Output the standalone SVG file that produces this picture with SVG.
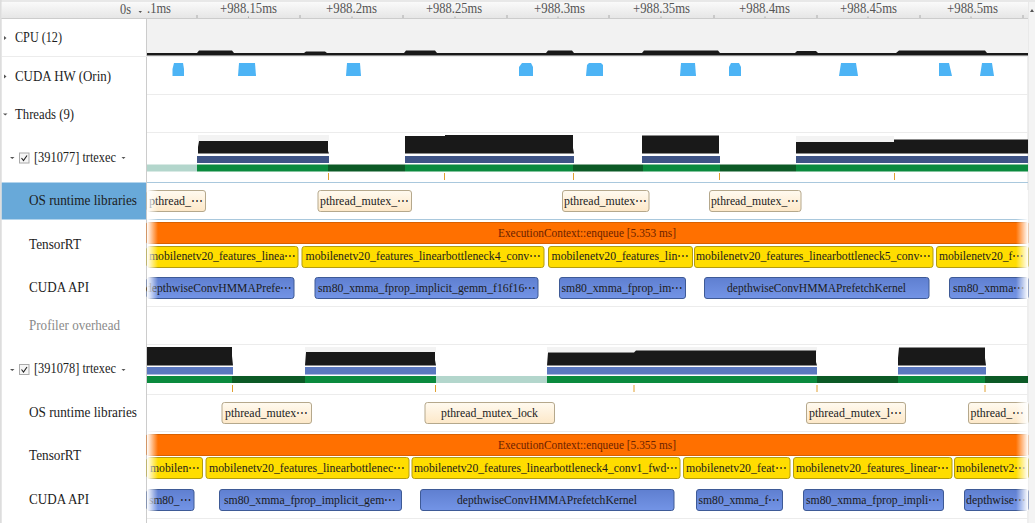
<svg xmlns="http://www.w3.org/2000/svg" width="1035" height="523" viewBox="0 0 1035 523">
<style>
text{font-family:"Liberation Serif","Times New Roman",serif;font-size:12px;fill:#1c1c1c}
.r{fill:#555;font-size:14px}
.l{font-size:14px}
.g{fill:#8a8a8a}
.sep{stroke:#ececec;stroke-width:1}
.k{fill:#191919}
.bd{fill:#f3f3f3}
.hw{fill:#4db4f5}
.t1{fill:#3f5486}
.t2{fill:#5b78bf}
.gr{fill:#0b8a3e}
.dk{fill:#0c5a26}
.lt{fill:#b3d6cc}
.tk{stroke:#e0a030;stroke-width:1}
.tri{fill:#555}
.os{fill:url(#gos);stroke:#b5a88c}
.yl{fill:#ffdd00;stroke:#b39c10}
.bl{fill:url(#gbl);stroke:#3e5a96}
.or{fill:#ff7000;stroke:#d86000}
.cb{fill:#f6f6f6;stroke:#aaa}
.rt{stroke:#aaa;stroke-width:1}
.o{fill:#6a2200;font-size:13px}
</style>
<defs>
<linearGradient id="ghd" x1="0" y1="0" x2="0" y2="1"><stop offset="0" stop-color="#fafafa"/><stop offset="1" stop-color="#e6e6e6"/></linearGradient>
<linearGradient id="gos" x1="0" y1="0" x2="0" y2="1"><stop offset="0" stop-color="#fffaf0"/><stop offset="1" stop-color="#fde8c8"/></linearGradient>
<linearGradient id="gbl" x1="0" y1="0" x2="0" y2="1"><stop offset="0" stop-color="#5f7fd0"/><stop offset="1" stop-color="#7394e6"/></linearGradient>
<linearGradient id="fl" x1="0" y1="0" x2="1" y2="0"><stop offset="0" stop-color="#fff" stop-opacity="1"/><stop offset="1" stop-color="#fff" stop-opacity="0"/></linearGradient>
<linearGradient id="fr" x1="0" y1="0" x2="1" y2="0"><stop offset="0" stop-color="#fff" stop-opacity="0"/><stop offset="1" stop-color="#fff" stop-opacity="1"/></linearGradient>
</defs>
<rect width="1035" height="523" fill="#fff"/>
<rect x="0" y="0" width="1035" height="2" fill="#e8e8e8"/>
<rect x="0" y="0" width="1.5" height="523" fill="#ddd"/>
<rect x="1028" y="2" width="7" height="521" fill="#f4f4f4"/>
<path d="M1028 2V523" stroke="#ddd"/>
<path d="M1030 12l2-3 2 3z" fill="#555"/>

<g id="ruler">
<rect x="1.5" y="2" width="1026.5" height="16" fill="url(#ghd)"/>
<path d="M0 18.5H1028" stroke="#ccc"/>
<path class="rt" d="M197 15v3M248.500 16.500v1.500M300 15v3M352 16.500v1.500M403 15v3M455 16.500v1.500M507 15v3M558 16.500v1.500M609 15v3M661 16.500v1.500M714 15v3M765 16.500v1.500M817 15v3M868 16.500v1.500M920 15v3M971 16.500v1.500M1023 15v3"/>
<text class="r" x="120" y="14" textLength="11" lengthAdjust="spacingAndGlyphs">0s</text>
<path class="tri" d="M138.500 11h3.500l-1.750 2z"/>
<text class="r" x="147" y="13" textLength="24" lengthAdjust="spacingAndGlyphs">.1ms</text>
<text class="r" x="220" y="13" textLength="57" lengthAdjust="spacingAndGlyphs">+988.15ms</text>
<text class="r" x="326" y="13" textLength="51" lengthAdjust="spacingAndGlyphs">+988.2ms</text>
<text class="r" x="426" y="13" textLength="56" lengthAdjust="spacingAndGlyphs">+988.25ms</text>
<text class="r" x="534" y="13" textLength="51" lengthAdjust="spacingAndGlyphs">+988.3ms</text>
<text class="r" x="633" y="13" textLength="57" lengthAdjust="spacingAndGlyphs">+988.35ms</text>
<text class="r" x="739" y="13" textLength="51" lengthAdjust="spacingAndGlyphs">+988.4ms</text>
<text class="r" x="840" y="13" textLength="57" lengthAdjust="spacingAndGlyphs">+988.45ms</text>
<text class="r" x="947" y="13" textLength="51" lengthAdjust="spacingAndGlyphs">+988.5ms</text>
</g>

<g id="sidebar">
<rect x="1.500" y="182.500" width="144.500" height="37" fill="#68a9d9"/>
<path d="M146.500 18V523" stroke="#ccc"/>
<path class="tri" d="M4 36l2.500 2-2.500 2z"/>
<path class="tri" d="M4 74.500l2.500 2-2.500 2z"/>
<path class="tri" d="M3 113.500h4.500l-2.250 2z"/>
<path class="tri" d="M10 157h4.500l-2.250 2z"/>
<path class="tri" d="M121.500 157h4l-2 2z"/>
<rect class="cb" x="19.500" y="153" width="9.500" height="10"/>
<path d="M21.500 158l2 2.500 3.500-5" fill="none" stroke="#222" stroke-width="1.100"/>
<path class="tri" d="M10 369h4.500l-2.250 2z"/>
<path class="tri" d="M121.500 369h4l-2 2z"/>
<rect class="cb" x="19.500" y="364.500" width="9.500" height="10"/>
<path d="M21.500 369.500l2 2.500 3.500-5" fill="none" stroke="#222" stroke-width="1.100"/>
<text class="l" x="15" y="42" textLength="47" lengthAdjust="spacingAndGlyphs">CPU (12)</text>
<text class="l" x="15" y="81" textLength="96" lengthAdjust="spacingAndGlyphs">CUDA HW (Orin)</text>
<text class="l" x="15" y="119" textLength="59" lengthAdjust="spacingAndGlyphs">Threads (9)</text>
<text class="l" x="34" y="162" textLength="82" lengthAdjust="spacingAndGlyphs">[391077] trtexec</text>
<text class="l" x="29" y="205" textLength="108" lengthAdjust="spacingAndGlyphs">OS runtime libraries</text>
<text class="l" x="29" y="249" textLength="52" lengthAdjust="spacingAndGlyphs">TensorRT</text>
<text class="l" x="29" y="292" textLength="60" lengthAdjust="spacingAndGlyphs">CUDA API</text>
<text class="l g" x="29" y="330" textLength="91" lengthAdjust="spacingAndGlyphs">Profiler overhead</text>
<text class="l" x="34" y="373" textLength="82" lengthAdjust="spacingAndGlyphs">[391078] trtexec</text>
<text class="l" x="29" y="417" textLength="108" lengthAdjust="spacingAndGlyphs">OS runtime libraries</text>
<text class="l" x="29" y="460" textLength="52" lengthAdjust="spacingAndGlyphs">TensorRT</text>
<text class="l" x="29" y="504" textLength="60" lengthAdjust="spacingAndGlyphs">CUDA API</text>
</g>

<g id="separators">
<path class="sep" d="M1.500 56.500H1028M147 94.500H1028M147 132.500H1028M147 306.500H1028M147 344.500H1028M147 394.500H1028M147 431.500H1028M147 518.500H1028"/>
<path d="M147 182.500H1028M147 219.500H1028" stroke="#a9c8dd"/>
</g>

<g id="cpu-track">
<rect x="147" y="19" width="881" height="34" fill="#f2f2f2"/>
<path class="k" d="M147 53H197L199 50.500H232L234 53H304L306 51.500H325L327 53H404L406 50.500H435L437 53H546L548 50.500H572L574 53H642L644 50.500H718L720 53H795L797 51H816L818 53H896L899 50.500H985L987 53H1028V55.500H147Z"/>
</g>

<g id="cuda-hw-track" class="hw">
<path d="M172.500 76V69L174 63H183L184 69V76Z"/>
<path d="M238 76L239 63H255L256 76Z"/>
<path d="M346 76L347 63H360L361 76Z"/>
<path d="M519 76V67L522 63H531L533 67V76Z"/>
<path d="M586 76L587 65L589 63H601L603 65V76Z"/>
<path d="M680 76L681 63H695L696 76Z"/>
<path d="M729 76V67L731 63H739L741 67V76Z"/>
<path d="M839 76L841 63H856L858 76Z"/>
<path d="M939 76V63H949L952 76Z"/>
<path d="M980 76L982 63H992L994 76Z"/>
</g>

<g id="thread-391077">
<rect class="bd" x="198" y="135" width="131" height="6"/>
<rect class="bd" x="796" y="136" width="98" height="6"/>
<path class="k" d="M199 141H328V151L329 153.500H198V147Z"/>
<path class="k" d="M405 136H445V135H573V148L574 153.500H405Z"/>
<path class="k" d="M642 135.500H719V153.500H642Z"/>
<path class="k" d="M796 142H894V139.500H1028V153.500H796Z"/>
<rect class="t1" x="197" y="156" width="132" height="7"/>
<rect class="t1" x="405" y="156" width="169" height="7"/>
<rect class="t1" x="642" y="156" width="78" height="7"/>
<rect class="t1" x="796" y="156" width="232" height="7"/>
<rect class="lt" x="147" y="164.500" width="50" height="7"/>
<rect class="gr" x="197" y="164.500" width="131" height="7"/>
<rect class="dk" x="328" y="164.500" width="77" height="7"/>
<rect class="gr" x="405" y="164.500" width="168" height="7"/>
<rect class="dk" x="573" y="164.500" width="70" height="7"/>
<rect class="gr" x="643" y="164.500" width="77" height="7"/>
<rect class="dk" x="720" y="164.500" width="76" height="7"/>
<rect class="gr" x="796" y="164.500" width="232" height="7"/>
<path class="tk" d="M328.500 173v7M444.500 173v7M573.500 173v7M719.500 173v7M894.500 173v7"/>
</g>

<g id="thread1-slices">
<rect class="os" x="147" y="190.500" width="58.500" height="21" rx="2.500"/>
<rect class="os" x="318" y="190.500" width="93.500" height="21" rx="2.500"/>
<rect class="os" x="562.500" y="190.500" width="86.500" height="21" rx="2.500"/>
<rect class="os" x="709.500" y="190.500" width="91.500" height="21" rx="2.500"/>
<text x="149" y="205" textLength="54" lengthAdjust="spacingAndGlyphs">pthread_⋯</text>
<text x="320" y="205" textLength="89" lengthAdjust="spacingAndGlyphs">pthread_mutex_⋯</text>
<text x="564" y="205" textLength="83" lengthAdjust="spacingAndGlyphs">pthread_mutex⋯</text>
<text x="711" y="205" textLength="88" lengthAdjust="spacingAndGlyphs">pthread_mutex_⋯</text>
<rect class="or" x="147" y="222.500" width="881" height="21" rx="1"/>
<text class="o" x="498" y="237" textLength="178" lengthAdjust="spacingAndGlyphs">ExecutionContext::enqueue [5.353 ms]</text>
<rect class="yl" x="147" y="246.500" width="151" height="21" rx="2.500"/>
<rect class="yl" x="302" y="246.500" width="242" height="21" rx="2.500"/>
<rect class="yl" x="548.500" y="246.500" width="144" height="21" rx="2.500"/>
<rect class="yl" x="694.500" y="246.500" width="238.500" height="21" rx="2.500"/>
<rect class="yl" x="936.500" y="246.500" width="92" height="21" rx="2.500"/>
<text x="149" y="260" textLength="147" lengthAdjust="spacingAndGlyphs">mobilenetv20_features_linea⋯</text>
<text x="305.500" y="260" textLength="235.500" lengthAdjust="spacingAndGlyphs">mobilenetv20_features_linearbottleneck4_conv⋯</text>
<text x="551.500" y="260" textLength="137.500" lengthAdjust="spacingAndGlyphs">mobilenetv20_features_lin⋯</text>
<text x="696" y="260" textLength="235" lengthAdjust="spacingAndGlyphs">mobilenetv20_features_linearbottleneck5_conv⋯</text>
<text x="939" y="260" textLength="85" lengthAdjust="spacingAndGlyphs">mobilenetv20_f⋯</text>
<rect class="bl" x="147" y="277.500" width="147" height="21" rx="2.500"/>
<rect class="bl" x="315" y="277.500" width="223" height="21" rx="2.500"/>
<rect class="bl" x="559.500" y="277.500" width="126" height="21" rx="2.500"/>
<rect class="bl" x="704.500" y="277.500" width="224.500" height="21" rx="2.500"/>
<rect class="bl" x="949.500" y="277.500" width="79" height="21" rx="2.500"/>
<text x="146" y="292" textLength="146" lengthAdjust="spacingAndGlyphs">depthwiseConvHMMAPrefe⋯</text>
<text x="318" y="292" textLength="218" lengthAdjust="spacingAndGlyphs">sm80_xmma_fprop_implicit_gemm_f16f16⋯</text>
<text x="561.500" y="292" textLength="121.500" lengthAdjust="spacingAndGlyphs">sm80_xmma_fprop_im⋯</text>
<text x="727" y="292" textLength="179" lengthAdjust="spacingAndGlyphs">depthwiseConvHMMAPrefetchKernel</text>
<text x="953" y="292" textLength="72" lengthAdjust="spacingAndGlyphs">sm80_xmma⋯</text>
</g>

<g id="thread-391078">
<rect class="bd" x="305" y="347" width="131" height="5"/>
<rect class="bd" x="547" y="347" width="270" height="5"/>
<path class="k" d="M147 347H232V356L233 365.500H147Z"/>
<path class="k" d="M306 352H435V360L436 365.500H305Z"/>
<path class="k" d="M548 352.500H634L636 350.500H816V362L817 365.500H547Z"/>
<path class="k" d="M899 347.500H985V358L986 365.500H898V358Z"/>
<rect class="t2" x="147" y="367" width="86" height="7.500"/>
<rect class="t2" x="305" y="367" width="131" height="7.500"/>
<rect class="t2" x="547" y="367" width="270" height="7.500"/>
<rect class="t2" x="898" y="367" width="88" height="7.500"/>
<rect class="gr" x="147" y="376" width="85" height="7"/>
<rect class="dk" x="232" y="376" width="73" height="7"/>
<rect class="gr" x="305" y="376" width="131" height="7"/>
<rect class="lt" x="436" y="376" width="111" height="7"/>
<rect class="gr" x="547" y="376" width="270" height="7"/>
<rect class="dk" x="817" y="376" width="81" height="7"/>
<rect class="gr" x="898" y="376" width="87" height="7"/>
<rect class="dk" x="985" y="376" width="43" height="7"/>
<path class="tk" d="M232.500 385v7M435.500 385v7M634 385v7M817 385v7M985 385v7"/>
</g>

<g id="thread2-slices">
<rect class="os" x="222" y="402.500" width="89.500" height="21" rx="2.500"/>
<rect class="os" x="425" y="402.500" width="129.500" height="21" rx="2.500"/>
<rect class="os" x="806.500" y="402.500" width="99" height="21" rx="2.500"/>
<rect class="os" x="968.500" y="402.500" width="60" height="21" rx="2.500"/>
<text x="225" y="417" textLength="83" lengthAdjust="spacingAndGlyphs">pthread_mutex⋯</text>
<text x="441" y="417" textLength="97" lengthAdjust="spacingAndGlyphs">pthread_mutex_lock</text>
<text x="809" y="417" textLength="93" lengthAdjust="spacingAndGlyphs">pthread_mutex_l⋯</text>
<text x="970.500" y="417" textLength="53.500" lengthAdjust="spacingAndGlyphs">pthread_⋯</text>
<rect class="or" x="147" y="434.500" width="881" height="21" rx="1"/>
<text class="o" x="498" y="449" textLength="178" lengthAdjust="spacingAndGlyphs">ExecutionContext::enqueue [5.355 ms]</text>
<rect class="yl" x="147" y="457.500" width="55.500" height="21" rx="2.500"/>
<rect class="yl" x="206" y="457.500" width="203" height="21" rx="2.500"/>
<rect class="yl" x="412" y="457.500" width="268" height="21" rx="2.500"/>
<rect class="yl" x="683.500" y="457.500" width="106.500" height="21" rx="2.500"/>
<rect class="yl" x="793.500" y="457.500" width="158.500" height="21" rx="2.500"/>
<rect class="yl" x="954.500" y="457.500" width="74" height="21" rx="2.500"/>
<text x="150" y="472" textLength="50" lengthAdjust="spacingAndGlyphs">mobilen⋯</text>
<text x="209" y="472" textLength="196" lengthAdjust="spacingAndGlyphs">mobilenetv20_features_linearbottlenec⋯</text>
<text x="414" y="472" textLength="264" lengthAdjust="spacingAndGlyphs">mobilenetv20_features_linearbottleneck4_conv1_fwd⋯</text>
<text x="686" y="472" textLength="100.500" lengthAdjust="spacingAndGlyphs">mobilenetv20_feat⋯</text>
<text x="796" y="472" textLength="153" lengthAdjust="spacingAndGlyphs">mobilenetv20_features_linear⋯</text>
<text x="956" y="472" textLength="70" lengthAdjust="spacingAndGlyphs">mobilenetv2⋯</text>
<rect class="bl" x="147" y="489.500" width="47" height="21" rx="2.500"/>
<rect class="bl" x="219.500" y="489.500" width="182" height="21" rx="2.500"/>
<rect class="bl" x="420.500" y="489.500" width="253.500" height="21" rx="2.500"/>
<rect class="bl" x="696.500" y="489.500" width="86" height="21" rx="2.500"/>
<rect class="bl" x="803.500" y="489.500" width="140" height="21" rx="2.500"/>
<rect class="bl" x="964.500" y="489.500" width="64" height="21" rx="2.500"/>
<text x="149" y="504" textLength="42" lengthAdjust="spacingAndGlyphs">sm80_⋯</text>
<text x="224" y="504" textLength="172" lengthAdjust="spacingAndGlyphs">sm80_xmma_fprop_implicit_gem⋯</text>
<text x="457" y="504" textLength="180" lengthAdjust="spacingAndGlyphs">depthwiseConvHMMAPrefetchKernel</text>
<text x="698.500" y="504" textLength="81.500" lengthAdjust="spacingAndGlyphs">sm80_xmma_f⋯</text>
<text x="806" y="504" textLength="134" lengthAdjust="spacingAndGlyphs">sm80_xmma_fprop_impli⋯</text>
<text x="966" y="504" textLength="60" lengthAdjust="spacingAndGlyphs">depthwise⋯</text>
</g>

<g id="edge-fades">
<rect x="147" y="190" width="11" height="109" fill="url(#fl)"/>
<rect x="147" y="402" width="11" height="109" fill="url(#fl)"/>
<rect x="1016" y="190" width="12" height="109" fill="url(#fr)"/>
<rect x="1016" y="402" width="12" height="109" fill="url(#fr)"/>
<rect x="1028.500" y="190" width="6.500" height="333" fill="#f4f4f4"/>
<rect x="0" y="0" width="1.500" height="523" fill="#ddd"/>
</g>
</svg>
